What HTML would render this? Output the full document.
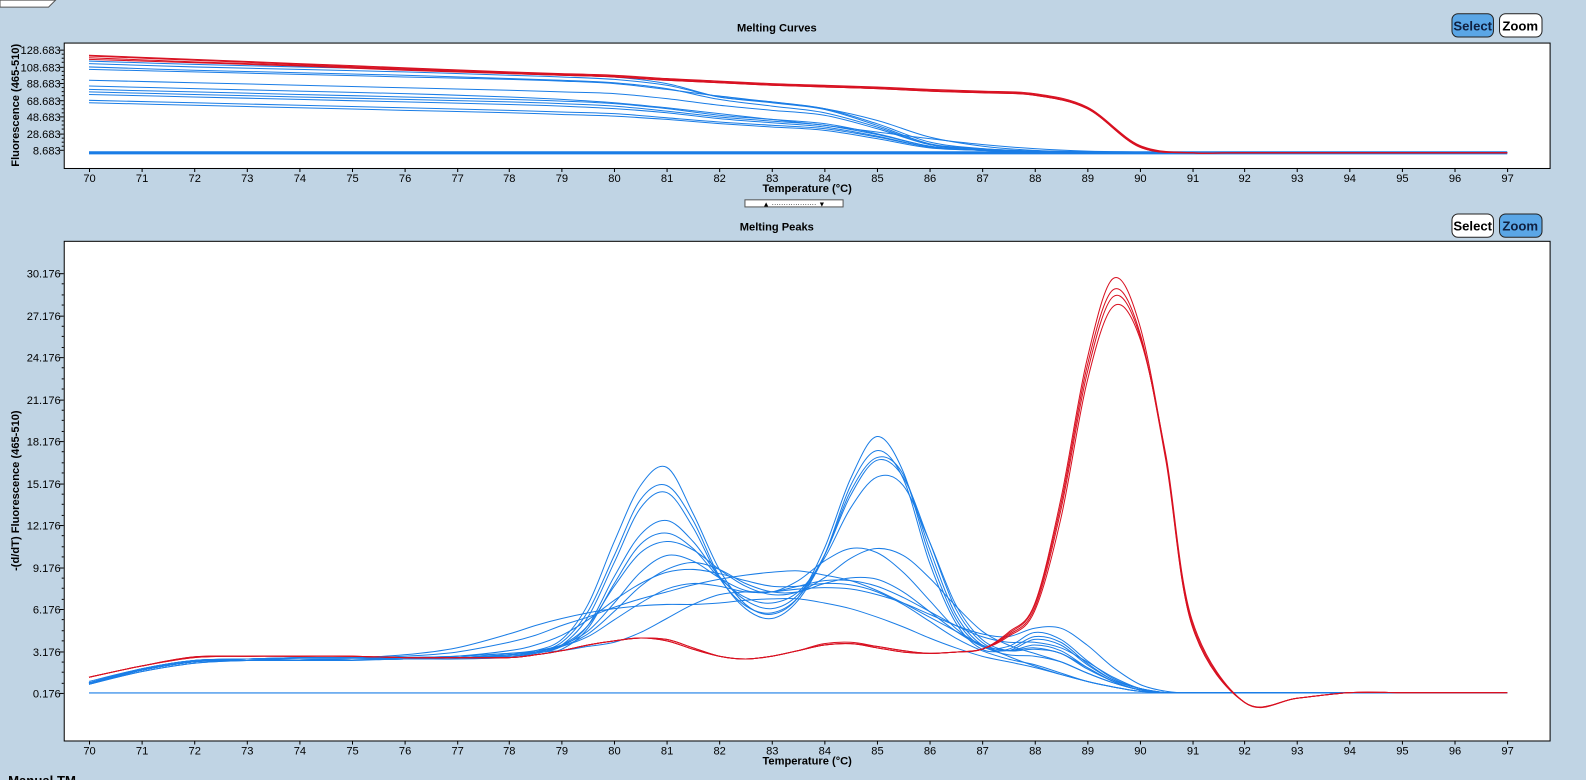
<!DOCTYPE html>
<html><head><meta charset="utf-8"><style>
body{margin:0;width:1586px;height:780px;overflow:hidden;background:#c0d4e4;font-family:"Liberation Sans",sans-serif;}
svg{position:absolute;left:0;top:0}
</style></head><body>
<svg id="s" width="1586" height="780" viewBox="0 0 1568 771" xmlns="http://www.w3.org/2000/svg">
  <path d="M0,0 H55 L48,7 H0 Z" fill="#fff" stroke="#555"/>
  <text x="768" y="31" font-size="11" font-weight="bold" text-anchor="middle" font-family="Liberation Sans">Melting Curves</text>
  <text x="768" y="228" font-size="11" font-weight="bold" text-anchor="middle" font-family="Liberation Sans">Melting Peaks</text>
  <g><rect x="1435.5" y="13.5" width="41" height="23" rx="6" fill="#5aa6e6" stroke="#222"/><text x="1456" y="30" font-size="13" font-weight="bold" text-anchor="middle" fill="#102040">Select</text></g>
  <g><rect x="1482.5" y="13.5" width="42" height="23" rx="6" fill="#fff" stroke="#222"/><text x="1503" y="30" font-size="13" font-weight="bold" text-anchor="middle">Zoom</text></g>
  <g><rect x="1435.5" y="211.5" width="41" height="23" rx="6" fill="#fff" stroke="#222"/><text x="1456" y="228" font-size="13" font-weight="bold" text-anchor="middle">Select</text></g>
  <g><rect x="1482.5" y="211.5" width="42" height="23" rx="6" fill="#5aa6e6" stroke="#222"/><text x="1503" y="228" font-size="13" font-weight="bold" text-anchor="middle" fill="#102040">Zoom</text></g>
  <g><rect x="736.5" y="197.5" width="97" height="7" fill="#fff" stroke="#555"/><text x="785" y="204" font-size="7" text-anchor="middle">▲ ··················· ▼</text></g>
  <text x="8" y="776" font-size="13" font-weight="bold">Manual TM</text>
  <g id="top"></g><g id="bot"></g>
</svg>
<script>
// ---- data ----
const topTemps=[70,72,74,76,78,79,80,81,82,83,84,85,86,87,88,89,90,91,92,97];
const topBlue=[
[115,111,108,105,101,99,96,88,72,66,58,40,18,10,7,6,5.5,5,5,5],
[112,108,105,102,98,96,93,86,72,65,57,38,16,10,7,6,5.5,5,5,5],
[108,104,101,98,94,92,89,82,69,61,53,36,15,9,7,6,5.5,5,5,5],
[92,89,86,83,80,78,76,70,62,56,50,34,15,9,7,6,5.5,5,5,5],
[81,78,75,72,69,67,64,58,50,45,40,28,13,8,6.5,6,5.5,5,5,5],
[78,75,72,69,66,64,61,55,48,43,38,27,13,8,6.5,6,5.5,5,5,5],
[75,72,69,66,63,61,58,53,46,41,36,25,12,8,6.5,6,5.5,5,5,5],
[68,65,62,59,56,54,52,47,42,38,34,24,12,8,6.5,6,5.5,5,5,5],
[65,62,59,56,53,51,49,45,40,36,32,22,11,8,6.5,6,5.5,5,5,5],
[85,82,79,76,72,69,65,59,52,45,38,30,22,15,10,7,6,5.5,5,5],
[105,102,99,96,93,91,88,81,73,66,58,44,24,13,8,6.5,5.5,5,5,5],
[5,5,5,5,5,5,5,5,5,5,5,5,5,5,5,5,5,5,5,5]];
const topRed=[
[122,117,112,107,102,100,98,94,91,88,86,84,81,79,76,60,14,5,5,5],
[121,116,111,106,101,99,97,93,90,87,85,83,80,78,75,59,13,5,5,5],
[119,114,110,105,100,98,96,92,89,86,84,82,79,77,74,58,12,5,5,5],
[117,113,109,104,100,98,96,92,89,86,84,82,79,77,74,58,12,5,5,5]];
const peakTemps=[70,71,72,73,74,75,76,77,78,78.5,79,79.5,80,80.5,81,81.5,82,82.5,83,83.5,84,84.5,85,85.5,86,86.5,87,87.5,88,88.5,89,89.5,90,90.5,91,92,93,94,95,96,97];
const peakBlue=[
[0.9,1.9,2.5,2.6,2.6,2.6,2.6,2.7,2.9,3.2,4,6.5,11,15,16.3,13,9,6.5,5.8,7,10.5,15.5,18.5,16,10,5.5,3.5,3.5,4.5,4,2.5,1.2,0.5,0.2,0.18,0.18,0.18,0.18,0.18,0.18,0.18],
[0.8,1.8,2.4,2.5,2.5,2.6,2.6,2.7,2.8,3.1,3.8,6,10,14,15,12.5,8.5,6.2,5.5,6.8,10,15,17.5,15.5,9.5,5.2,3.3,3.3,4.2,3.8,2.3,1.1,0.5,0.2,0.18,0.18,0.18,0.18,0.18,0.18,0.18],
[0.8,1.8,2.4,2.5,2.5,2.6,2.6,2.7,2.8,3,3.6,5.6,9.5,13.4,14.5,12,8.4,6.4,5.9,7,10,14.6,17,15.8,10.5,5.8,3.6,3.2,4,3.6,2.2,1.1,0.5,0.2,0.18,0.18,0.18,0.18,0.18,0.18,0.18],
[0.8,1.8,2.4,2.5,2.6,2.6,2.6,2.7,2.8,3,3.5,5,8.5,11.5,12.5,11,8.5,6.8,6.2,7.2,10,14.3,16.8,15.6,11,6.2,3.8,3.2,3.6,3.2,2,1,0.4,0.2,0.18,0.18,0.18,0.18,0.18,0.18,0.18],
[0.8,1.7,2.3,2.5,2.5,2.5,2.6,2.6,2.7,2.9,3.3,4.8,8,10.8,11.6,10.5,8.4,7,6.6,7.4,9.8,13.4,15.6,15,11,6.5,4,3.2,3.3,3,1.9,1,0.4,0.2,0.18,0.18,0.18,0.18,0.18,0.18,0.18],
[0.9,1.8,2.4,2.6,2.6,2.6,2.6,2.7,2.9,3.1,3.6,5,7.8,10.2,11,10.4,9,7.8,7.2,7.4,8.4,9.8,10.5,10,8.4,6.4,4.6,3.6,3,2.4,1.6,0.9,0.4,0.2,0.18,0.18,0.18,0.18,0.18,0.18,0.18],
[0.9,1.9,2.5,2.6,2.7,2.7,2.8,3.1,3.8,4.3,5,5.6,6.3,6.9,7.4,7.9,8.3,8.6,8.8,8.9,8.6,8.2,7.5,6.6,5.6,4.6,3.6,2.8,2.1,1.5,1,0.6,0.3,0.2,0.18,0.18,0.18,0.18,0.18,0.18,0.18],
[0.9,1.8,2.4,2.6,2.6,2.6,2.7,2.8,3.2,3.6,4.3,5.4,6.8,8,8.8,9,8.7,8.2,7.8,7.8,8,7.9,7.4,6.5,5.3,4.1,3.2,2.6,2.2,1.6,1,0.6,0.3,0.2,0.18,0.18,0.18,0.18,0.18,0.18,0.18],
[0.8,1.7,2.3,2.5,2.5,2.6,2.6,2.7,2.9,3.1,3.5,4.4,6,7.8,9,9.5,9,8,7.4,7.4,8,8.4,8.3,7.4,6,4.6,3.5,2.9,2.8,2.4,1.6,0.9,0.4,0.2,0.18,0.18,0.18,0.18,0.18,0.18,0.18],
[0.9,1.8,2.4,2.6,2.6,2.6,2.7,2.8,3,3.2,3.6,4.6,6.6,8.8,10,9.6,8.4,7.5,7.4,8.2,9.6,10.5,10.2,8.8,6.8,4.8,3.6,3.2,3.4,3,2,1,0.4,0.2,0.18,0.18,0.18,0.18,0.18,0.18,0.18],
[0.9,1.8,2.4,2.6,2.6,2.6,2.6,2.7,2.9,3.1,3.5,4.2,5.4,6.6,7.6,8,7.8,7.4,7.4,7.8,8.2,8.2,7.8,7,6,5,4.2,3.8,3.8,3.4,2.4,1.3,0.5,0.2,0.18,0.18,0.18,0.18,0.18,0.18,0.18],
[1,1.9,2.5,2.6,2.7,2.7,2.7,2.8,3,3.1,3.2,3.5,3.8,4.5,5.5,6.5,7.2,7.4,7.4,7.6,7.7,7.6,7.2,6.6,5.8,5,4.4,4.2,4.8,4.8,3.6,2,0.8,0.3,0.18,0.18,0.18,0.18,0.18,0.18,0.18],
[0.9,1.9,2.5,2.6,2.7,2.7,2.9,3.4,4.4,5,5.5,5.9,6.2,6.4,6.5,6.5,6.6,6.8,6.9,6.9,6.6,6.2,5.6,4.9,4.1,3.4,2.8,2.4,2,1.5,1,0.6,0.3,0.2,0.18,0.18,0.18,0.18,0.18,0.18,0.18],
[0.176,0.176,0.176,0.176,0.176,0.176,0.176,0.176,0.176,0.176,0.176,0.176,0.176,0.176,0.176,0.176,0.176,0.176,0.176,0.176,0.176,0.176,0.176,0.176,0.176,0.176,0.176,0.176,0.176,0.176,0.176,0.176,0.176,0.176,0.176,0.176,0.176,0.176,0.176,0.176,0.176]];
const peakRed=[
[1.3,2.1,2.75,2.8,2.8,2.8,2.7,2.7,2.7,2.9,3.2,3.6,3.9,4.1,4,3.4,2.8,2.6,2.8,3.2,3.7,3.8,3.5,3.2,3,3.1,3.3,4.5,6.5,14,24,29.8,26.5,17,5,-0.5,-0.2,0.2,0.2,0.2,0.2],
[1.3,2.1,2.75,2.8,2.8,2.8,2.7,2.7,2.7,2.9,3.2,3.6,3.9,4.1,4,3.4,2.8,2.6,2.8,3.2,3.6,3.7,3.5,3.2,3,3.1,3.3,4.4,6.4,13.6,23.5,29,26,16.8,5,-0.5,-0.2,0.2,0.2,0.2,0.2],
[1.3,2.1,2.7,2.8,2.8,2.8,2.7,2.7,2.7,2.9,3.2,3.6,3.9,4.1,3.9,3.3,2.8,2.6,2.8,3.2,3.6,3.7,3.4,3.1,3,3.1,3.3,4.3,6.2,13.2,23,28.5,25.8,17,5.2,-0.5,-0.2,0.2,0.2,0.2,0.2],
[1.3,2.1,2.7,2.8,2.8,2.8,2.7,2.7,2.7,2.9,3.2,3.6,3.9,4.1,3.9,3.3,2.8,2.6,2.8,3.2,3.6,3.7,3.4,3.1,3,3.1,3.3,4.2,6,12.6,22.4,27.8,25.6,17.2,5.4,-0.5,-0.2,0.2,0.2,0.2,0.2]];
const xTickLabels=[70,71,72,73,74,75,76,77,78,79,80,81,82,83,84,85,86,87,88,89,90,91,92,93,94,95,96,97];
const topYTicks=[8.683,28.683,48.683,68.683,88.683,108.683,128.683];
const botYTicks=[0.176,3.176,6.176,9.176,12.176,15.176,18.176,21.176,24.176,27.176,30.176];

// ---- axes ----
const NS='http://www.w3.org/2000/svg';
const L=63,R=1532;
const xS=t=>88+(t-70)*51.93;
const topY=v=>148-(v-8.683)*99/120;
const botY=v=>685-(v-0.176)*41.5/3;
function mk(tag,at,parent){const e=document.createElementNS(NS,tag);for(const k in at)e.setAttribute(k,at[k]);parent.appendChild(e);return e;}
function smooth(pts){let d='M'+pts[0][0].toFixed(1)+','+pts[0][1].toFixed(1);
 for(let i=0;i<pts.length-1;i++){const p0=pts[Math.max(0,i-1)],p1=pts[i],p2=pts[i+1],p3=pts[Math.min(pts.length-1,i+2)];
  const c1=[p1[0]+(p2[0]-p0[0])/6,p1[1]+(p2[1]-p0[1])/6],c2=[p2[0]-(p3[0]-p1[0])/6,p2[1]-(p3[1]-p1[1])/6];
  d+=' C'+c1[0].toFixed(1)+','+c1[1].toFixed(1)+' '+c2[0].toFixed(1)+','+c2[1].toFixed(1)+' '+p2[0].toFixed(1)+','+p2[1].toFixed(1);}
 return d;}
function chart(g,top,bottom,yf,yticks,temps,blue,red,ylabel,prefix,flatW){
 const bg=mk('rect',{x:L+.5,y:top+.5,width:R-L,height:bottom-top,fill:'#fff',stroke:'#000'},g);
 
 
 const clipId=prefix+'clip';const cp=mk('clipPath',{id:clipId},g);mk('rect',{x:L+1,y:top+1,width:R-L-1,height:bottom-top-1},cp);
 const lines=mk('g',{'clip-path':'url(#'+clipId+')'},g);
 const draw=(arr,col,name)=>arr.forEach((s,i)=>{const flat=s.every(v=>v===s[0]);
  const p=mk('path',{d:smooth(s.map((v,j)=>[xS(temps[j]),yf(v)])),fill:'none',stroke:col,'stroke-width':flat?flatW:1},lines);
  
  });
 draw(blue,'#1a7de6','blue');draw(red,'#d81020','red');
 xTickLabels.forEach(t=>{const x=Math.round(xS(t))+.5;mk('line',{x1:x,x2:x,y1:bottom,y2:bottom+4,stroke:'#000'},g);
  const tx=mk('text',{x:x,y:bottom+14,'font-size':11,'text-anchor':'middle'},g);tx.textContent=t;
  
  });
 yticks.forEach((v,i)=>{const y=Math.round(yf(v))+.5;mk('line',{x1:L-4,x2:L,y1:y,y2:y,stroke:'#000'},g);
  if(i<yticks.length-1){const step=(yf(yticks[i+1])-yf(v))/4;for(let k=1;k<4;k++){const yy=Math.round(yf(v)+step*k)+.5;mk('line',{x1:L-2,x2:L,y1:yy,y2:yy,stroke:'#000'},g);}}
  const tx=mk('text',{x:L-3,y:y+4,'font-size':11,'text-anchor':'end'},g);tx.textContent=v.toFixed(3);
  
  });
 const xt=mk('text',{x:798,y:bottom+24,'font-size':11,'font-weight':'bold','text-anchor':'middle'},g);xt.textContent='Temperature (°C)';
 
 
 const cy=(top+bottom)/2;const yt=mk('text',{x:19,y:cy,'font-size':11,'font-weight':'bold','text-anchor':'middle',transform:'rotate(-90 19 '+cy+')'},g);yt.textContent=ylabel;
 
 
}
chart(document.getElementById('top'),42,166,topY,topYTicks,topTemps,topBlue,topRed,'Fluorescence (465-510)','curves',3);
chart(document.getElementById('bot'),238,732,botY,botYTicks,peakTemps,peakBlue,peakRed,'-(d/dT) Fluorescence (465-510)','peaks',1);
</script>
</body></html>
